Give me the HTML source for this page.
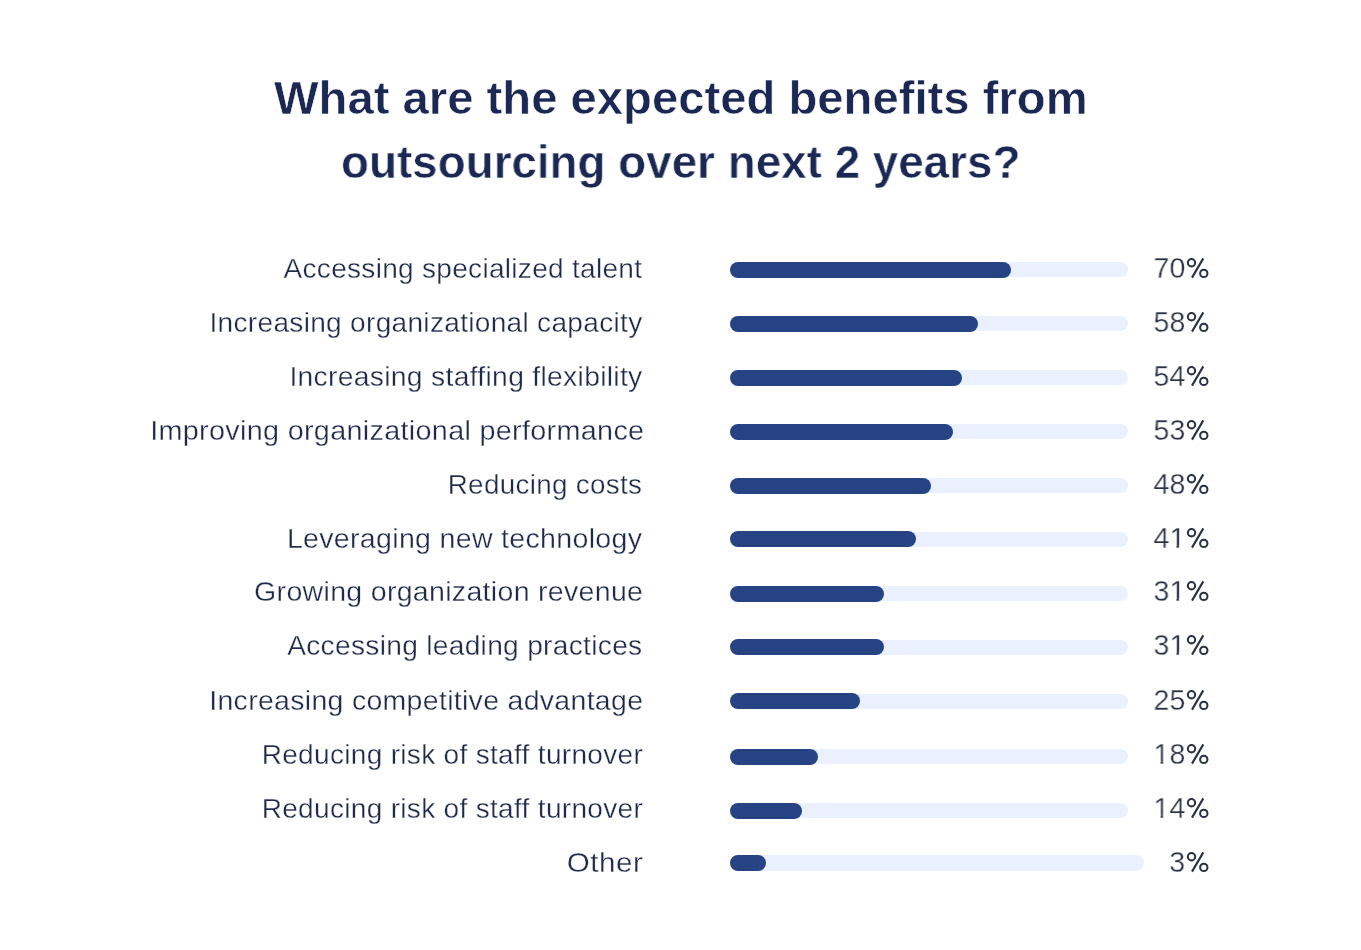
<!DOCTYPE html>
<html><head><meta charset="utf-8"><style>
html,body{margin:0;padding:0;background:#fff;width:1361px;height:950px;overflow:hidden;position:relative;font-family:"Liberation Sans",sans-serif}
.t{position:absolute;left:0;width:1361px;height:0;text-align:center;font-weight:bold;font-size:47px;color:#1b2853;line-height:0;white-space:nowrap}
.t span{display:inline-block;line-height:0;transform-origin:center center;-webkit-text-stroke:0.5px #fff;will-change:transform}
.tr{position:absolute;left:730px;height:15.2px;border-radius:7.6px;background:#eaf0fe}
.bar{position:absolute;left:730px;height:16px;border-radius:8px;background:#264483}
.lab{position:absolute;right:720px;height:0;line-height:0;font-size:27.5px;color:#1f2a4a;white-space:nowrap}
.pct{position:absolute;right:176.0px;line-height:normal;font-size:29px;color:#2a3142;white-space:nowrap}
.lab span,.pct span{display:inline-block;line-height:0;transform-origin:right center;-webkit-text-stroke:0.3px #fff;will-change:transform}
.pct span{transform:scaleX(0.985);line-height:normal}
.pc{position:absolute;left:1185px;fill:none;stroke:#2a3142;stroke-width:2.05px}
.pc line{stroke-width:2.1px}
.one{font-style:normal;display:inline-block;line-height:normal;clip-path:polygon(0 0,100% 0,100% 23px,9.7px 23px,9.7px 100%,7.3px 100%,7.3px 23px,0 23px)}
</style></head><body>
<div class="t" style="top:97.8px"><span style="transform:scaleX(1.0050)">What are the expected benefits from</span></div>
<div class="t" style="top:162.4px"><span style="transform:scaleX(0.9743)">outsourcing over next 2 years?</span></div>
<div class="tr" style="top:262.30px;width:398px"></div>
<div class="bar" style="top:261.9px;width:281.0px"></div>
<div class="lab" style="top:269.0px;right:718.67px"><span style="letter-spacing:0.300px;margin-right:-0.300px;transform:scaleX(1.0183)">Accessing specialized talent</span></div>
<div class="pct" style="top:252.10px"><span>70</span></div>
<svg class="pc" style="top:257.00px" width="26" height="23" viewBox="0 0 26 23"><circle cx="6.5" cy="5.7" r="3.65"/><circle cx="18.8" cy="16.4" r="3.65"/><line x1="7" y1="20.6" x2="18.3" y2="1.4"/></svg>
<div class="tr" style="top:316.25px;width:398px"></div>
<div class="bar" style="top:315.9px;width:247.6px"></div>
<div class="lab" style="top:322.9px;right:718.67px"><span style="letter-spacing:0.300px;margin-right:-0.300px;transform:scaleX(1.0200)">Increasing organizational capacity</span></div>
<div class="pct" style="top:306.00px"><span>58</span></div>
<svg class="pc" style="top:310.90px" width="26" height="23" viewBox="0 0 26 23"><circle cx="6.5" cy="5.7" r="3.65"/><circle cx="18.8" cy="16.4" r="3.65"/><line x1="7" y1="20.6" x2="18.3" y2="1.4"/></svg>
<div class="tr" style="top:370.25px;width:398px"></div>
<div class="bar" style="top:369.9px;width:231.8px"></div>
<div class="lab" style="top:376.8px;right:718.67px"><span style="letter-spacing:0.300px;margin-right:-0.300px;transform:scaleX(1.0280)">Increasing staffing flexibility</span></div>
<div class="pct" style="top:359.90px"><span>54</span></div>
<svg class="pc" style="top:364.80px" width="26" height="23" viewBox="0 0 26 23"><circle cx="6.5" cy="5.7" r="3.65"/><circle cx="18.8" cy="16.4" r="3.65"/><line x1="7" y1="20.6" x2="18.3" y2="1.4"/></svg>
<div class="tr" style="top:424.00px;width:398px"></div>
<div class="bar" style="top:423.6px;width:223.4px"></div>
<div class="lab" style="top:430.6px;right:717.27px"><span style="letter-spacing:0.300px;margin-right:-0.300px;transform:scaleX(1.0461)">Improving organizational performance</span></div>
<div class="pct" style="top:413.70px"><span>53</span></div>
<svg class="pc" style="top:418.60px" width="26" height="23" viewBox="0 0 26 23"><circle cx="6.5" cy="5.7" r="3.65"/><circle cx="18.8" cy="16.4" r="3.65"/><line x1="7" y1="20.6" x2="18.3" y2="1.4"/></svg>
<div class="tr" style="top:478.25px;width:398px"></div>
<div class="bar" style="top:477.9px;width:200.5px"></div>
<div class="lab" style="top:484.5px;right:718.67px"><span style="letter-spacing:0.300px;margin-right:-0.300px;transform:scaleX(1.0120)">Reducing costs</span></div>
<div class="pct" style="top:467.60px"><span>48</span></div>
<svg class="pc" style="top:472.50px" width="26" height="23" viewBox="0 0 26 23"><circle cx="6.5" cy="5.7" r="3.65"/><circle cx="18.8" cy="16.4" r="3.65"/><line x1="7" y1="20.6" x2="18.3" y2="1.4"/></svg>
<div class="tr" style="top:531.60px;width:398px"></div>
<div class="bar" style="top:531.2px;width:185.8px"></div>
<div class="lab" style="top:538.6px;right:718.67px"><span style="letter-spacing:0.300px;margin-right:-0.300px;transform:scaleX(1.0383)">Leveraging new technology</span></div>
<div class="pct" style="top:521.70px"><span>4<i class="one">1</i></span></div>
<svg class="pc" style="top:526.60px" width="26" height="23" viewBox="0 0 26 23"><circle cx="6.5" cy="5.7" r="3.65"/><circle cx="18.8" cy="16.4" r="3.65"/><line x1="7" y1="20.6" x2="18.3" y2="1.4"/></svg>
<div class="tr" style="top:586.00px;width:398px"></div>
<div class="bar" style="top:585.6px;width:153.6px"></div>
<div class="lab" style="top:592.3px;right:717.97px"><span style="letter-spacing:0.300px;margin-right:-0.300px;transform:scaleX(1.0370)">Growing organization revenue</span></div>
<div class="pct" style="top:575.40px"><span>3<i class="one">1</i></span></div>
<svg class="pc" style="top:580.30px" width="26" height="23" viewBox="0 0 26 23"><circle cx="6.5" cy="5.7" r="3.65"/><circle cx="18.8" cy="16.4" r="3.65"/><line x1="7" y1="20.6" x2="18.3" y2="1.4"/></svg>
<div class="tr" style="top:639.70px;width:398px"></div>
<div class="bar" style="top:639.3px;width:153.6px"></div>
<div class="lab" style="top:646.0px;right:718.67px"><span style="letter-spacing:0.300px;margin-right:-0.300px;transform:scaleX(1.0226)">Accessing leading practices</span></div>
<div class="pct" style="top:629.10px"><span>3<i class="one">1</i></span></div>
<svg class="pc" style="top:634.00px" width="26" height="23" viewBox="0 0 26 23"><circle cx="6.5" cy="5.7" r="3.65"/><circle cx="18.8" cy="16.4" r="3.65"/><line x1="7" y1="20.6" x2="18.3" y2="1.4"/></svg>
<div class="tr" style="top:693.50px;width:398px"></div>
<div class="bar" style="top:693.1px;width:129.5px"></div>
<div class="lab" style="top:700.5px;right:717.97px"><span style="letter-spacing:0.300px;margin-right:-0.300px;transform:scaleX(1.0352)">Increasing competitive advantage</span></div>
<div class="pct" style="top:683.60px"><span>25</span></div>
<svg class="pc" style="top:688.50px" width="26" height="23" viewBox="0 0 26 23"><circle cx="6.5" cy="5.7" r="3.65"/><circle cx="18.8" cy="16.4" r="3.65"/><line x1="7" y1="20.6" x2="18.3" y2="1.4"/></svg>
<div class="tr" style="top:749.30px;width:398px"></div>
<div class="bar" style="top:748.9px;width:87.8px"></div>
<div class="lab" style="top:755.0px;right:718.67px"><span style="letter-spacing:0.300px;margin-right:-0.300px;transform:scaleX(1.0197)">Reducing risk of staff turnover</span></div>
<div class="pct" style="top:738.10px"><span><i class="one">1</i>8</span></div>
<svg class="pc" style="top:743.00px" width="26" height="23" viewBox="0 0 26 23"><circle cx="6.5" cy="5.7" r="3.65"/><circle cx="18.8" cy="16.4" r="3.65"/><line x1="7" y1="20.6" x2="18.3" y2="1.4"/></svg>
<div class="tr" style="top:803.00px;width:398px"></div>
<div class="bar" style="top:802.6px;width:71.6px"></div>
<div class="lab" style="top:809.0px;right:718.67px"><span style="letter-spacing:0.300px;margin-right:-0.300px;transform:scaleX(1.0197)">Reducing risk of staff turnover</span></div>
<div class="pct" style="top:792.10px"><span><i class="one">1</i>4</span></div>
<svg class="pc" style="top:797.00px" width="26" height="23" viewBox="0 0 26 23"><circle cx="6.5" cy="5.7" r="3.65"/><circle cx="18.8" cy="16.4" r="3.65"/><line x1="7" y1="20.6" x2="18.3" y2="1.4"/></svg>
<div class="tr" style="top:855.40px;width:414px"></div>
<div class="bar" style="top:855.0px;width:35.9px"></div>
<div class="lab" style="top:862.7px;right:718.67px"><span style="letter-spacing:0.500px;margin-right:-0.500px;transform:scaleX(1.0741)">Other</span></div>
<div class="pct" style="top:845.80px"><span>3</span></div>
<svg class="pc" style="top:850.70px" width="26" height="23" viewBox="0 0 26 23"><circle cx="6.5" cy="5.7" r="3.65"/><circle cx="18.8" cy="16.4" r="3.65"/><line x1="7" y1="20.6" x2="18.3" y2="1.4"/></svg>
</body></html>
